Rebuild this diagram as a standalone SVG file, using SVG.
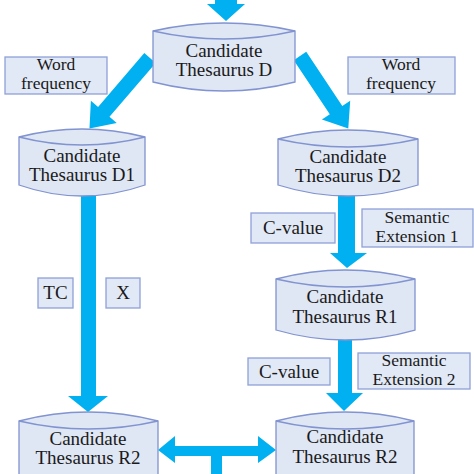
<svg xmlns="http://www.w3.org/2000/svg" width="474" height="474" viewBox="0 0 474 474">
<style>
.cyl{fill:#dfe6f4;stroke:#8193d0;stroke-width:1.3}
.lens{fill:none;stroke:#8193d0;stroke-width:1.3}
.box{fill:#e2e9f6;stroke:#8ea0d8;stroke-width:1.3}
.arr{fill:#00b0f0;stroke:none}
text{font-family:"Liberation Serif","Times New Roman",serif;font-size:19px;fill:#1a1a1a;text-anchor:middle}
.sm{font-size:17.5px}
</style>
<rect width="474" height="474" fill="#ffffff"/>
<g id="connectors">
<polygon class="arr" points="215,0 237,0 237,4 245,4 226,21 207,4 215,4"/>
<path class="arr" transform="translate(150,58) rotate(130.6)" d="M0,-7.5 L71,-7.5 L71,-17 L93,0 L71,17 L71,7.5 L0,7.5 Z"/>
<path class="arr" transform="translate(300,56) rotate(56.3)" d="M0,-7.5 L65,-7.5 L65,-17 L87,0 L65,17 L65,7.5 L0,7.5 Z"/>
<polygon class="arr" points="81,190 96,190 96,396 108,396 88,412 68,396 81,396"/>
<polygon class="arr" points="338,190 355,190 355,253 367,253 347,268 330,253 338,253"/>
<polygon class="arr" points="338,335 352,335 352,393 363,393 344,411 326,393 338,393"/>
<polygon class="arr" points="158,450 175,436 175,446 258,446 258,436 276,450 258,463 258,456 222,456 222,474 211,474 211,456 175,456 175,463"/>
</g>
<g id="nodeD">
<path class="cyl" d="M153,31 Q224,15 295,31 L295,82 Q224,100 153,82 Z"/>
<path class="lens" d="M153,31 Q224,47 295,31"/>
<text x="224" y="57">Candidate</text>
<text x="224" y="76">Thesaurus D</text>
</g>
<g id="nodeD1">
<path class="cyl" d="M19,137 Q82,121 145,137 L145,185 Q82,207 19,185 Z"/>
<path class="lens" d="M19,137 Q82,153 145,137"/>
<text x="82" y="162">Candidate</text>
<text x="82" y="181">Thesaurus D1</text>
</g>
<g id="nodeD2">
<path class="cyl" d="M278,139 Q348,121 418,139 L418,185 Q348,207 278,185 Z"/>
<path class="lens" d="M278,139 Q348,155 418,139"/>
<text x="348" y="163">Candidate</text>
<text x="348" y="182">Thesaurus D2</text>
</g>
<g id="nodeR1">
<path class="cyl" d="M276,279 Q345,261 415,279 L415,330 Q345,350 276,330 Z"/>
<path class="lens" d="M276,279 Q345,295 415,279"/>
<text x="345" y="303">Candidate</text>
<text x="345" y="323">Thesaurus R1</text>
</g>
<g id="nodeR2left">
<path class="cyl" d="M19,421 Q88,403 158,421 L158,480 L19,480 Z"/>
<path class="lens" d="M19,421 Q88,437 158,421"/>
<text x="88" y="445">Candidate</text>
<text x="88" y="464">Thesaurus R2</text>
</g>
<g id="nodeR2right">
<path class="cyl" d="M276,421 Q345,403 414,421 L414,480 L276,480 Z"/>
<path class="lens" d="M276,421 Q345,437 414,421"/>
<text x="345" y="443">Candidate</text>
<text x="345" y="463">Thesaurus R2</text>
</g>
<g id="labelWordFreqLeft">
<rect class="box" x="5" y="57" width="102" height="37"/>
<text class="sm" x="56" y="70">Word</text>
<text class="sm" x="56" y="89">frequency</text>
</g>
<g id="labelWordFreqRight">
<rect class="box" x="348" y="57" width="107" height="37"/>
<text class="sm" x="401" y="70">Word</text>
<text class="sm" x="401" y="89">frequency</text>
</g>
<g id="labelTC">
<rect class="box" x="38" y="278" width="35" height="30"/>
<text x="55.5" y="299">TC</text>
</g>
<g id="labelX">
<rect class="box" x="106" y="278" width="34" height="30"/>
<text x="123" y="299">X</text>
</g>
<g id="labelCvalue1">
<rect class="box" x="251" y="213" width="84" height="30"/>
<text x="293" y="234">C-value</text>
</g>
<g id="labelSemExt1">
<rect class="box" x="362" y="209" width="111" height="38"/>
<text class="sm" x="417" y="223">Semantic</text>
<text class="sm" x="417" y="242">Extension 1</text>
</g>
<g id="labelCvalue2">
<rect class="box" x="248" y="358" width="82" height="27"/>
<text x="289" y="378">C-value</text>
</g>
<g id="labelSemExt2">
<rect class="box" x="358" y="353" width="112" height="36"/>
<text class="sm" x="414" y="366">Semantic</text>
<text class="sm" x="414" y="385">Extension 2</text>
</g>
</svg>
